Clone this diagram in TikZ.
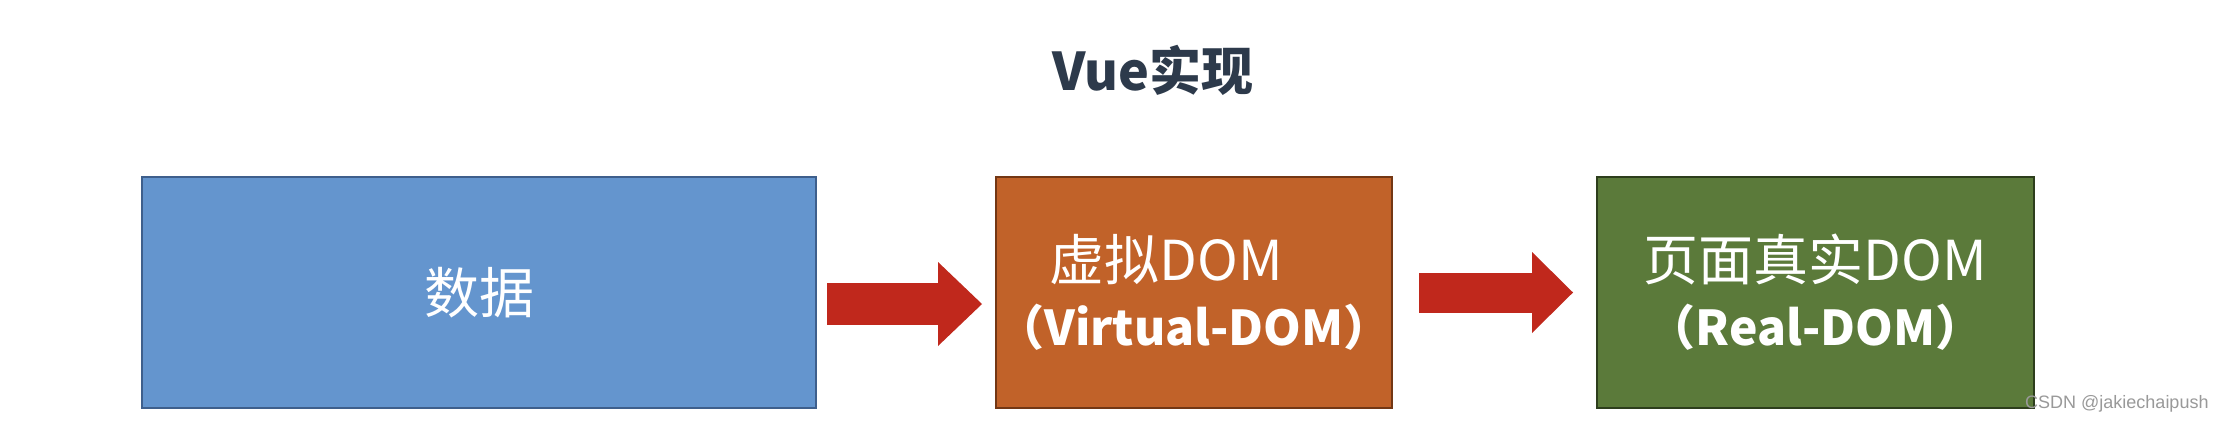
\documentclass[tikz,border=0pt]{standalone}
\usepackage{fontspec}
\setmainfont{Noto Sans CJK SC}
\newfontfamily\markfont{Liberation Sans}
\usetikzlibrary{arrows.meta}

\definecolor{titlegray}{RGB}{45,58,75}
\definecolor{datafill}{RGB}{100,149,206}
\definecolor{dataline}{RGB}{62,95,140}
\definecolor{vdomfill}{RGB}{193,98,41}
\definecolor{vdomline}{RGB}{115,55,20}
\definecolor{rdomfill}{RGB}{91,122,58}
\definecolor{rdomline}{RGB}{45,62,28}
\definecolor{arrowred}{RGB}{192,40,28}

\tikzstyle{box} = [rectangle,draw,line width=2pt,inner sep=0pt,outer sep=0pt,minimum height=231pt,text=white,align=center,font=\fontsize{55}{65}\selectfont]
\tikzstyle{bigarrow} = [draw=arrowred,-{Triangle[length=44pt,width=84pt,line width=0pt]}]
\newcommand{\boldline}[1]{{\bfseries\fontsize{48}{65}\selectfont #1}}

\begin{document}
\begin{tikzpicture}[x=1pt,y=-1pt]
	\useasboundingbox[fill=white] (0,0) rectangle (2224,421);
	\node[font=\bfseries\fontsize{52}{60}\selectfont,text=titlegray] (title) at (1153,70) {Vue实现};
	\node[box,fill=datafill,draw=dataline,minimum width=674pt] (data) at (479,292.5) {数据};
	\node[box,fill=vdomfill,draw=vdomline,minimum width=396pt] (vdom) at (1194,292.5) {虚拟DOM\hspace*{1em}\\\boldline{（Virtual-DOM）}};
	\node[box,fill=rdomfill,draw=rdomline,minimum width=437pt] (rdom) at (1815.5,292.5) {页面真实DOM\\\boldline{（Real-DOM）}};
	\node[anchor=base west,inner sep=0pt,font=\markfont\fontsize{18}{20}\selectfont,text=gray!80] (mark) at (2025,408) {CSDN @jakiechaipush};
	\draw[bigarrow,line width=42pt,shorten <=11pt,shorten >=14pt] ([yshift=-11.5pt]data.east) -- ([yshift=-11.5pt]vdom.west);
	\draw[bigarrow,line width=40pt,shorten <=27pt,shorten >=24pt,-{Triangle[length=41pt,width=81pt,line width=0pt]}] (vdom) -- (rdom);
\end{tikzpicture}
\end{document}
